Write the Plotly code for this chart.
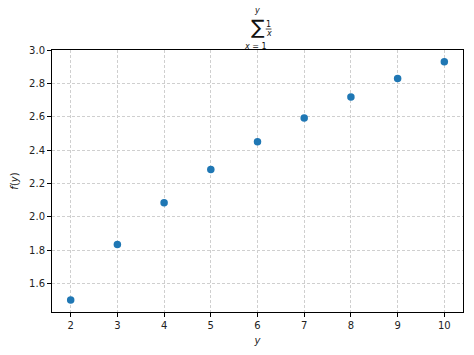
import plotly.graph_objects as go

y_vals = [2, 3, 4, 5, 6, 7, 8, 9, 10]
f_vals = [1.5, 1.8333, 2.0833, 2.2833, 2.45, 2.5929, 2.7179, 2.8290, 2.9290]
x_ticks = [2, 3, 4, 5, 6, 7, 8, 9, 10]
y_ticks = [1.6, 1.8, 2.0, 2.2, 2.4, 2.6, 2.8, 3.0]

FONT = "DejaVu Sans"

fig = go.Figure()
fig.add_trace(go.Scatter(
    x=y_vals, y=f_vals, mode="markers",
    marker=dict(color="#1f77b4", size=7.5, line=dict(width=0)),
    showlegend=False,
))

axis_common = dict(
    showline=True, linecolor="black", linewidth=1, mirror=True,
    ticks="outside", ticklen=4, tickwidth=1, tickcolor="black",
    showgrid=True, gridcolor="#cfcfcf", griddash="3px,2px", gridwidth=1,
    zeroline=False, tickfont=dict(family=FONT, size=10, color="#222"),
)

fig.update_xaxes(range=[1.6, 10.4], tickvals=x_ticks,
                 ticktext=[str(t) for t in x_ticks],
                 title=dict(text="<i>y</i>", font=dict(family=FONT, size=10, color="#222"), standoff=6),
                 **axis_common)
fig.update_yaxes(range=[1.4286, 3.0], tickvals=y_ticks,
                 ticktext=[f"{t:.1f}" for t in y_ticks],
                 title=dict(text="<i>f</i>(<i>y</i>)", font=dict(family=FONT, size=10, color="#222"), standoff=8),
                 **axis_common)

ann_font = dict(family=FONT, color="#111")
anns = [
    dict(text="\u2211", x=0.500, y=1.086, size=20),
    dict(text="<i>y</i>", x=0.498, y=1.150, size=8),
    dict(text="<i>x</i> = 1", x=0.494, y=1.014, size=8),
    dict(text="1", x=0.527, y=1.099, size=8),
    dict(text="<i>x</i>", x=0.527, y=1.062, size=8),
]
for a in anns:
    fig.add_annotation(text=a["text"], x=a["x"], y=a["y"], xref="paper", yref="paper",
                       xanchor="center", yanchor="middle", showarrow=False,
                       font=dict(size=a["size"], **ann_font), borderpad=0)
fig.add_shape(type="line", xref="paper", yref="paper",
              x0=0.520, x1=0.534, y0=1.080, y1=1.080,
              line=dict(color="#111", width=0.8))

fig.update_layout(
    width=474, height=355,
    margin=dict(l=52, r=11, t=50, b=43),
    plot_bgcolor="white", paper_bgcolor="white",
    font=dict(family=FONT),
)

fig.write_html("out.html")
